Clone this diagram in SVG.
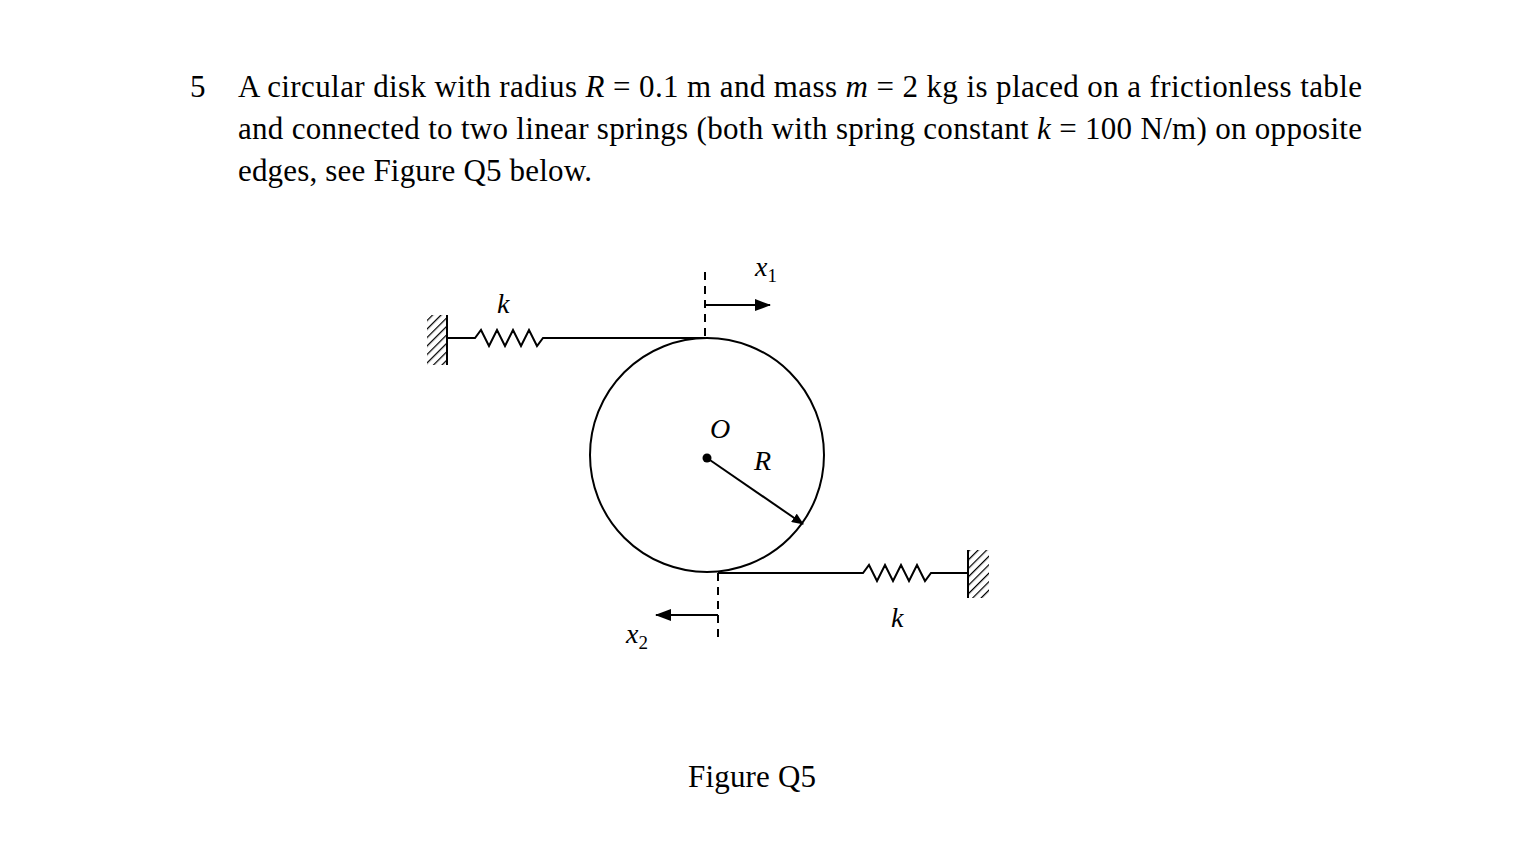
<svg xmlns="http://www.w3.org/2000/svg" width="1526" height="850" viewBox="0 0 1526 850">
<style>
.t{font-family:"Liberation Serif",serif;font-size:31px;fill:#000}
.m{font-family:"Liberation Serif",serif;font-style:italic;font-size:28px;fill:#000}
.ln{stroke:#000;stroke-width:2;fill:none}
.d{stroke:#000;stroke-width:2;stroke-dasharray:8,6;fill:none}
</style>
<defs>
<marker id="ah" markerWidth="12" markerHeight="10" refX="11" refY="5" orient="auto" markerUnits="userSpaceOnUse" viewBox="0 0 12 10"><path d="M0,0 L12,5 L0,10z" fill="#000"/></marker>
<marker id="ah2" markerWidth="16" markerHeight="12" refX="15" refY="6" orient="auto" markerUnits="userSpaceOnUse" viewBox="0 0 16 12"><path d="M0,0 L16,6 L0,12z" fill="#000"/></marker>
<pattern id="hat" width="6" height="6" patternUnits="userSpaceOnUse" patternTransform="rotate(45)"><line x1="0" y1="0" x2="0" y2="6" stroke="#000" stroke-width="2.5"/></pattern>
</defs>
<rect width="1526" height="850" fill="#fff"/>
<g id="text">
<text class="t" x="190" y="97">5</text>
<text class="t" x="238" y="97" textLength="1124" lengthAdjust="spacing">A circular disk with radius <tspan font-style="italic">R</tspan> = 0.1 m and mass <tspan font-style="italic">m</tspan> = 2 kg is placed on a frictionless table</text>
<text class="t" x="238" y="139" textLength="1124" lengthAdjust="spacing">and connected to two linear springs (both with spring constant <tspan font-style="italic">k</tspan> = 100 N/m) on opposite</text>
<text class="t" x="238" y="181" textLength="354" lengthAdjust="spacing">edges, see Figure Q5 below.</text>
<text class="t" x="688" y="787" textLength="128" lengthAdjust="spacing">Figure Q5</text>
</g>
<g id="disk">
<circle cx="707" cy="455" r="117" class="ln" stroke-width="1.5"/>
<circle cx="707" cy="458" r="4.5" fill="#000"/>
<text class="m" x="710" y="438" font-size="26">O</text>
<text class="m" x="754" y="470" font-size="26">R</text>
</g>
<g id="wall1"><rect x="427" y="315" width="20" height="50" fill="url(#hat)"/><line class="ln" x1="447" y1="315" x2="447" y2="365"/></g>
<g id="wall2"><rect x="969" y="550" width="20" height="48" fill="url(#hat)"/><line class="ln" x1="968" y1="550" x2="968" y2="598"/></g>
<g id="spring1"><text class="m" x="497" y="313">k</text></g>
<g id="spring2"><text class="m" x="891" y="627">k</text></g>
<g id="labels">
<text class="m" x="755" y="276">x<tspan font-size="19" dy="6" font-style="normal">1</tspan></text>
<text class="m" x="626" y="643">x<tspan font-size="19" dy="6" font-style="normal">2</tspan></text>
</g>
<g id="connectors">
<polyline class="ln" points="447,338 475,338 481,330 489,346 497,330 505,346 513,330 521,346 529,330 537,346 543,338 705,338"/>
<polyline class="ln" points="718,573 863,573 869,565 877,581 885,565 893,581 901,565 909,581 917,565 925,581 931,573 968,573"/>
<line class="d" x1="705" y1="272" x2="705" y2="338"/>
<line class="d" x1="718" y1="573" x2="718" y2="637"/>
<line class="ln" x1="706" y1="305" x2="770" y2="305" marker-end="url(#ah2)"/>
<line class="ln" x1="718" y1="615" x2="656" y2="615" marker-end="url(#ah2)"/>
<line class="ln" x1="707" y1="458" x2="803" y2="524" marker-end="url(#ah)"/>
</g>
</svg>
